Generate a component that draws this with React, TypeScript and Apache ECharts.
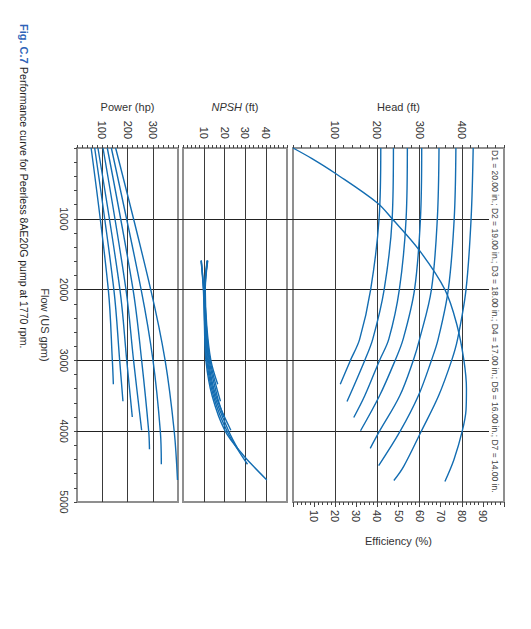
import { useEffect, useRef } from "react";
import * as echarts from "echarts";

// ---------- data (flow in US gpm, value) ----------
const diameterNames = ["14 in.", "15 in.", "16 in.", "17 in.", "18 in.", "19 in.", "20 in."];

const headD14 = [[0, 208], [1000, 204], [2000, 184], [2700, 158], [3000, 136], [3338, 112]];
const headD15 = [[0, 238], [1000, 235], [2000, 216], [2700, 189], [3000, 170], [3581, 128]];
const headD16 = [[0, 271], [1000, 268], [2000, 252], [2700, 227], [3000, 205], [3500, 170], [3806, 144]];
const headD17 = [[0, 305], [1000, 302], [2000, 288], [2700, 261], [3000, 242], [3500, 205], [3994, 160]];
const headD18 = [[0, 346], [1000, 342], [2000, 328], [2700, 300], [3000, 285], [3500, 253], [4000, 205], [4242, 183]];
const headD19 = [[0, 386], [1000, 382], [2000, 368], [2700, 344], [3000, 328], [3500, 297], [4000, 254], [4486, 203]];
const headD20 = [[0, 427], [1000, 422], [2000, 410], [2700, 390], [3000, 376], [3500, 345], [4000, 304], [4500, 262], [4697, 239]];

const efficiency = [[0, 0], [150, 9], [357, 20], [776, 40], [1000, 47], [1450, 60], [2000, 72], [2500, 77.7], [3000, 81], [3400, 82.2], [3700, 82], [4000, 80.2], [4400, 76.3], [4711, 72]];

const powerD14 = [[0, 56], [2000, 124], [3000, 140], [3336, 144]];
const powerD15 = [[0, 70], [2000, 146], [3000, 169], [3577, 182]];
const powerD16 = [[0, 83], [2000, 170], [3000, 197], [3800, 219]];
const powerD17 = [[0, 103], [2000, 194], [3000, 224], [3986, 256]];
const powerD18 = [[0, 120], [2000, 222], [3000, 256], [4000, 284], [4255, 287]];
const powerD19 = [[0, 136], [2000, 254], [3000, 301], [4000, 330], [4467, 334]];
const powerD20 = [[0, 153], [2000, 292], [3000, 349], [4000, 385], [4689, 398]];

const npshD14 = [[1590, 11.9], [2000, 10.7], [2500, 11.4], [3000, 13.4], [3336, 16.7]];
const npshD15 = [[1590, 11.8], [2000, 10.6], [2500, 11.2], [3000, 13.0], [3577, 18.0]];
const npshD16 = [[1590, 11.7], [2000, 10.5], [2500, 11.0], [3000, 12.6], [3500, 16.4], [3800, 19.6]];
const npshD17 = [[1590, 11.6], [2000, 10.4], [2500, 10.9], [3000, 12.2], [3500, 15.8], [3986, 23.0]];
const npshD18 = [[1590, 8.8], [2000, 10.0], [2500, 10.7], [3000, 11.8], [3500, 15.2], [4000, 22.0], [4255, 26.5]];
const npshD19 = [[1590, 8.75], [2000, 9.9], [2500, 10.5], [3000, 11.4], [3500, 14.6], [4000, 21.2], [4467, 31.0]];
const npshD20 = [[1590, 8.7], [2000, 9.8], [2500, 10.3], [3000, 11.0], [3500, 14.0], [4000, 20.3], [4340, 29.0], [4500, 34.0], [4689, 40.3]];

const headCurves = [headD14, headD15, headD16, headD17, headD18, headD19, headD20];
const powerCurves = [powerD14, powerD15, powerD16, powerD17, powerD18, powerD19, powerD20];
const npshCurves = [npshD14, npshD15, npshD16, npshD17, npshD18, npshD19, npshD20];

const flowRange = [0, 5000];
const powerRange = [0, 400];
const npshRange = [0, 50];
const headRange = [0, 500];
const effRange = [0, 100];

const titleFig = "Fig. C.7";
const titleText = "Performance curve for Peerless 8AE20G pump at 1770 rpm.";
const legendText = "D1 = 20.00 in.; D2 = 19.00 in.; D3 = 18.00 in.; D4 = 17.00 in.; D5 = 16.00 in.; D7 = 14.00 in.";

// ---------- styles ----------
const FONT = "'Liberation Sans', Arial, sans-serif";
const TEXT = "#333";
const GRID_LINE = "#3a3a3a";
const BORDER = "#8f8f8f";
const CURVE = "#136db2";

function edgeFormatter(min: number, max: number) {
  return (v: number) => (v === min || v === max ? "" : String(v));
}

function topAxis(gridIndex: number, range: number[], interval: number, name: string, rich?: any) {
  return {
    type: "value",
    gridIndex,
    position: "top",
    min: range[0],
    max: range[1],
    interval,
    name,
    nameLocation: "middle",
    nameGap: 36,
    nameTextStyle: { color: TEXT, fontSize: 11, fontFamily: FONT, rich },
    axisLine: { show: false },
    axisTick: { show: true, length: 3, lineStyle: { color: "#444" } },
    minorTick: { show: true, splitNumber: 5, length: 3, lineStyle: { color: "#444" } },
    axisLabel: {
      rotate: -90,
      margin: 9,
      fontSize: 11,
      color: TEXT,
      fontFamily: FONT,
      formatter: edgeFormatter(range[0], range[1]),
    },
    splitLine: { show: true, showMinLine: false, showMaxLine: false, lineStyle: { color: GRID_LINE, width: 1 } },
  };
}

function flowAxis(gridIndex: number, visible: boolean) {
  return {
    type: "value",
    gridIndex,
    inverse: true,
    min: flowRange[0],
    max: flowRange[1],
    interval: 1000,
    show: visible,
    name: visible ? "Flow (US gpm)" : "",
    nameLocation: "middle",
    nameRotate: -90,
    nameGap: 27,
    nameTextStyle: { color: TEXT, fontSize: 11, fontFamily: FONT },
    axisLine: { show: false },
    axisTick: { show: true, length: 3, lineStyle: { color: "#444" } },
    minorTick: { show: true, splitNumber: 5, length: 3, lineStyle: { color: "#444" } },
    axisLabel: {
      rotate: -90,
      margin: 8,
      fontSize: 10.5,
      color: TEXT,
      fontFamily: FONT,
      formatter: (v: number) => (v === 0 ? "" : String(v)),
    },
    splitLine: { show: false },
  };
}

function curveSeries(curves: number[][][], xAxisIndex: number, yAxisIndex: number, prefix: string) {
  return curves.map((c, i) => ({
    type: "line",
    name: prefix + " " + diameterNames[i],
    xAxisIndex,
    yAxisIndex,
    data: c.map(([q, v]) => [v, q]),
    showSymbol: false,
    smooth: 0.35,
    lineStyle: { color: CURVE, width: 1.4 },
    itemStyle: { color: CURVE },
    silent: true,
  }));
}

const gridBox = { show: true, borderColor: BORDER, borderWidth: 2, backgroundColor: "transparent" };

const option: any = {
  animation: false,
  textStyle: { fontFamily: FONT },
  grid: [
    { left: 77, top: 148, width: 101, height: 354, ...gridBox },
    { left: 183, top: 148, width: 104, height: 354, ...gridBox },
    { left: 293, top: 148, width: 211, height: 354, ...gridBox },
    { left: 77, top: 148, width: 412, height: 354, show: false },
  ],
  xAxis: [
    topAxis(0, powerRange, 100, "Power (hp)"),
    topAxis(1, npshRange, 10, "{i|NPSH} (ft)", {
      i: { fontStyle: "italic", fontSize: 11, color: TEXT, fontFamily: FONT },
    }),
    topAxis(2, headRange, 100, "Head (ft)"),
    {
      type: "value",
      gridIndex: 2,
      position: "bottom",
      min: effRange[0],
      max: effRange[1],
      interval: 10,
      name: "Efficiency (%)",
      nameLocation: "middle",
      nameGap: 33,
      nameTextStyle: { color: TEXT, fontSize: 11, fontFamily: FONT },
      axisLine: { show: false },
      axisTick: { show: true, length: 5, lineStyle: { color: "#444" } },
      minorTick: { show: true, splitNumber: 5, length: 3, lineStyle: { color: "#444" } },
      axisLabel: {
        rotate: -90,
        margin: 8,
        fontSize: 11,
        color: TEXT,
        fontFamily: FONT,
        formatter: edgeFormatter(effRange[0], effRange[1]),
      },
      splitLine: { show: false },
    },
    { type: "value", gridIndex: 3, min: 0, max: 1, show: false },
  ],
  yAxis: [
    flowAxis(0, true),
    flowAxis(1, false),
    flowAxis(2, false),
    {
      type: "value",
      gridIndex: 3,
      inverse: true,
      min: flowRange[0],
      max: flowRange[1],
      interval: 1000,
      axisLine: { show: false },
      axisTick: { show: false },
      axisLabel: { show: false },
      splitLine: { show: true, showMinLine: false, showMaxLine: false, lineStyle: { color: "#222", width: 1 } },
    },
  ],
  graphic: [
    {
      type: "text",
      x: 24,
      y: 24,
      rotation: -Math.PI / 2,
      style: {
        text: "{a|" + titleFig + "} {b|" + titleText + "}",
        align: "left",
        verticalAlign: "middle",
        rich: {
          a: { fontSize: 11, fontWeight: "bold", fill: "#2e63b8", fontFamily: FONT },
          b: { fontSize: 10.5, fill: "#222", fontFamily: FONT },
        },
      },
    },
    {
      type: "text",
      x: 495,
      y: 150,
      rotation: -Math.PI / 2,
      z: 10,
      style: {
        text: legendText,
        align: "left",
        verticalAlign: "middle",
        fontSize: 8.5,
        fill: "#444",
        fontFamily: FONT,
      },
    },
  ],
  series: [
    ...curveSeries(powerCurves, 0, 0, "Power"),
    ...curveSeries(npshCurves, 1, 1, "NPSH"),
    ...curveSeries(headCurves, 2, 2, "Head"),
    {
      type: "line",
      name: "Efficiency",
      xAxisIndex: 3,
      yAxisIndex: 2,
      data: efficiency.map(([q, e]) => [e, q]),
      showSymbol: false,
      smooth: 0.35,
      lineStyle: { color: CURVE, width: 1.4 },
      silent: true,
    },
  ],
};

export default function App() {
  const ref = useRef<HTMLDivElement>(null);
  useEffect(() => {
    const chart = echarts.init(ref.current!, null, { renderer: "svg" });
    chart.setOption(option);
    return () => chart.dispose();
  }, []);
  return (
    <div
      ref={ref}
      style={{ position: "fixed", left: 0, top: 0, width: 531, height: 629, background: "#fff" }}
    />
  );
}
